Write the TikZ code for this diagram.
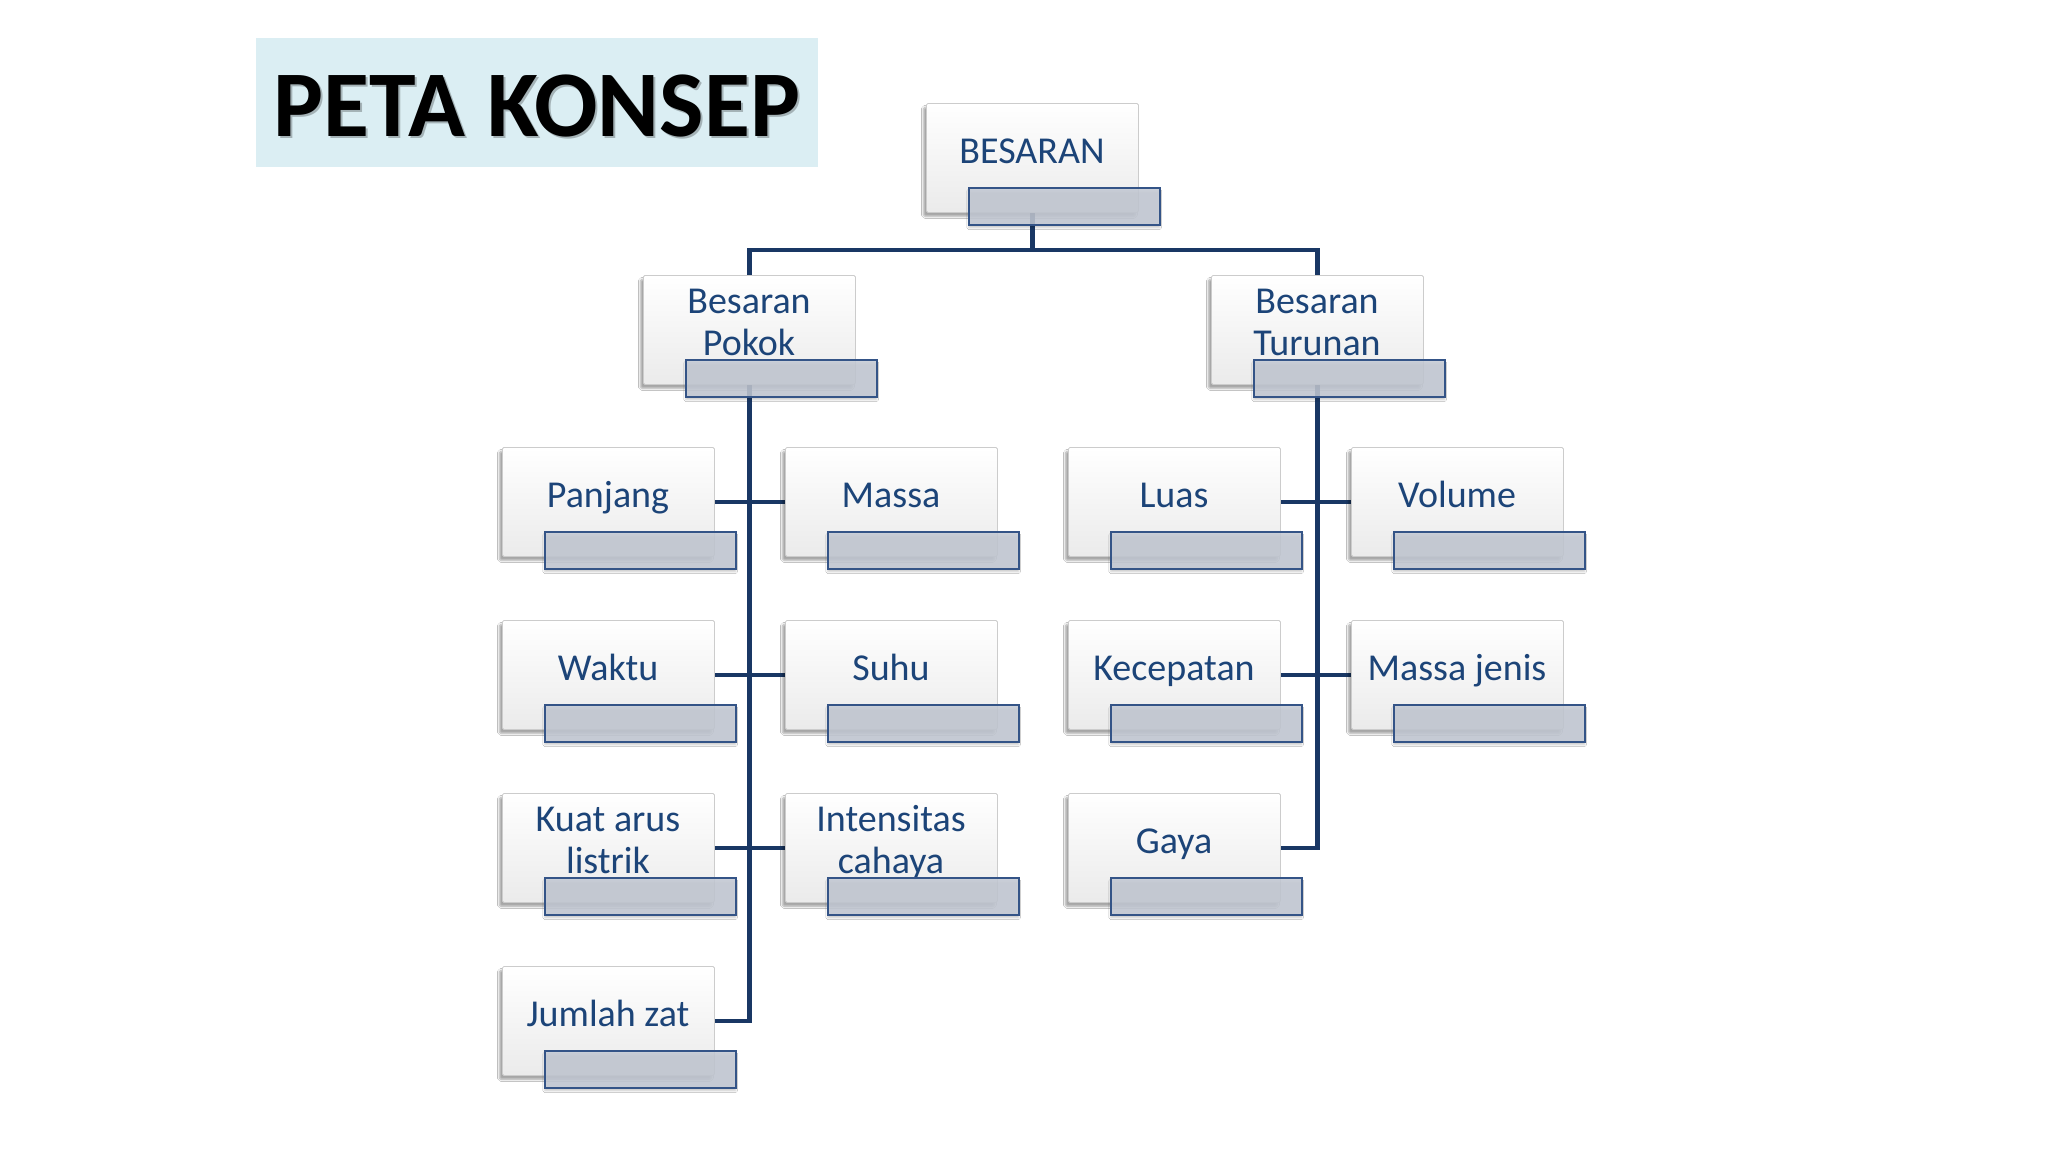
\documentclass[tikz,border=0pt]{standalone}
\usepackage{fontspec}
\setmainfont{Carlito}
\usetikzlibrary{shadows,shadows.blur,backgrounds}
\definecolor{linec}{RGB}{25,55,100}
\definecolor{txtc}{RGB}{28,68,120}
\definecolor{subfill}{RGB}{197,203,214}
\definecolor{subdraw}{RGB}{52,84,135}
\definecolor{titlefill}{RGB}{219,238,243}
\tikzset{
 mainbox/.style={draw=gray!40, line width=0.8pt, top color=white, bottom color=gray!16,
   minimum width=212pt, minimum height=109pt, anchor=north west, inner sep=0pt, rounded corners=1.5pt,
   blur shadow={shadow xshift=-3pt, shadow yshift=-4pt, shadow blur steps=6, shadow opacity=35}},
 subbox/.style={draw=subdraw, line width=1.5pt, fill=subfill, fill opacity=0.85,
   minimum width=191pt, minimum height=37pt, anchor=north west, inner sep=0pt,
   blur shadow={shadow xshift=0pt, shadow yshift=-3pt, shadow blur steps=4, shadow opacity=25}},
 lbl/.style={text=txtc, font=\fontsize{38}{42}\selectfont, inner sep=0pt, anchor=base},
 conn/.style={draw=linec, line width=4.5pt, line join=miter},
}
\newcommand\conceptone[4]{%
  \node[mainbox] (#1) at (#2,#3) {};
  \node[lbl] (#1-t) at (#2+106,#3+60) {#4};
  \node[subbox] (#1-s) at (#2+42,#3+84) {};
}
\newcommand\concepttwo[5]{%
  \node[mainbox] (#1) at (#2,#3) {};
  \node[lbl] (#1-t) at (#2+106,#3+38) {\begin{tabular}[t]{@{}c@{}}#4\\#5\end{tabular}};
  \node[subbox] (#1-s) at (#2+42,#3+84) {};
}
\begin{document}
\begin{tikzpicture}[x=1pt,y=-1pt]
\useasboundingbox (0,0) rectangle (2048,1152);
% title
\node[fill=titlefill, minimum width=562pt, minimum height=129pt, anchor=north west, inner sep=0pt] (titlebox) at (256,38) {};
\node[anchor=base, inner sep=0pt, text=black, opacity=0.25, font=\fontsize{94}{100}\selectfont\bfseries] (title-sh) at (539,138) {PETA KONSEP};
\node[anchor=base, inner sep=0pt, text=black, font=\fontsize{94}{100}\selectfont\bfseries] (title) at (537,136) {PETA KONSEP};
% concept boxes
\conceptone{besaran}{926}{103}{BESARAN}
\concepttwo{pokok}{643}{275}{Besaran}{Pokok}
\concepttwo{turunan}{1211}{275}{Besaran}{Turunan}
\conceptone{panjang}{502}{447}{Panjang}
\conceptone{massa}{785}{447}{Massa}
\conceptone{luas}{1068}{447}{Luas}
\conceptone{volume}{1351}{447}{Volume}
\conceptone{waktu}{502}{620}{Waktu}
\conceptone{suhu}{785}{620}{Suhu}
\conceptone{kecepatan}{1068}{620}{Kecepatan}
\conceptone{massajenis}{1351}{620}{Massa jenis}
\concepttwo{kuat}{502}{793}{Kuat arus}{listrik}
\concepttwo{intensitas}{785}{793}{Intensitas}{cahaya}
\conceptone{gaya}{1068}{793}{Gaya}
\conceptone{jumlah}{502}{966}{Jumlah zat}
\coordinate (bar) at (1033,250);
% connectors
\begin{scope}[on background layer]
\fill[white] (0,0) rectangle (2048,1152);
\draw[conn] (besaran.center) -- (besaran.center |- bar);
\draw[conn] (pokok.center) -- (pokok.center |- bar) -- (turunan.center |- bar) -- (turunan.center);
\draw[conn] (pokok.center) -- (pokok.center |- jumlah.east) -- (jumlah.east);
\draw[conn] (panjang.east) -- (massa.west);
\draw[conn] (waktu.east) -- (suhu.west);
\draw[conn] (kuat.east) -- (intensitas.west);
\draw[conn] (turunan.center) -- (turunan.center |- gaya.east) -- (gaya.east);
\draw[conn] (luas.east) -- (volume.west);
\draw[conn] (kecepatan.east) -- (massajenis.west);
\end{scope}
\end{tikzpicture}
\end{document}
